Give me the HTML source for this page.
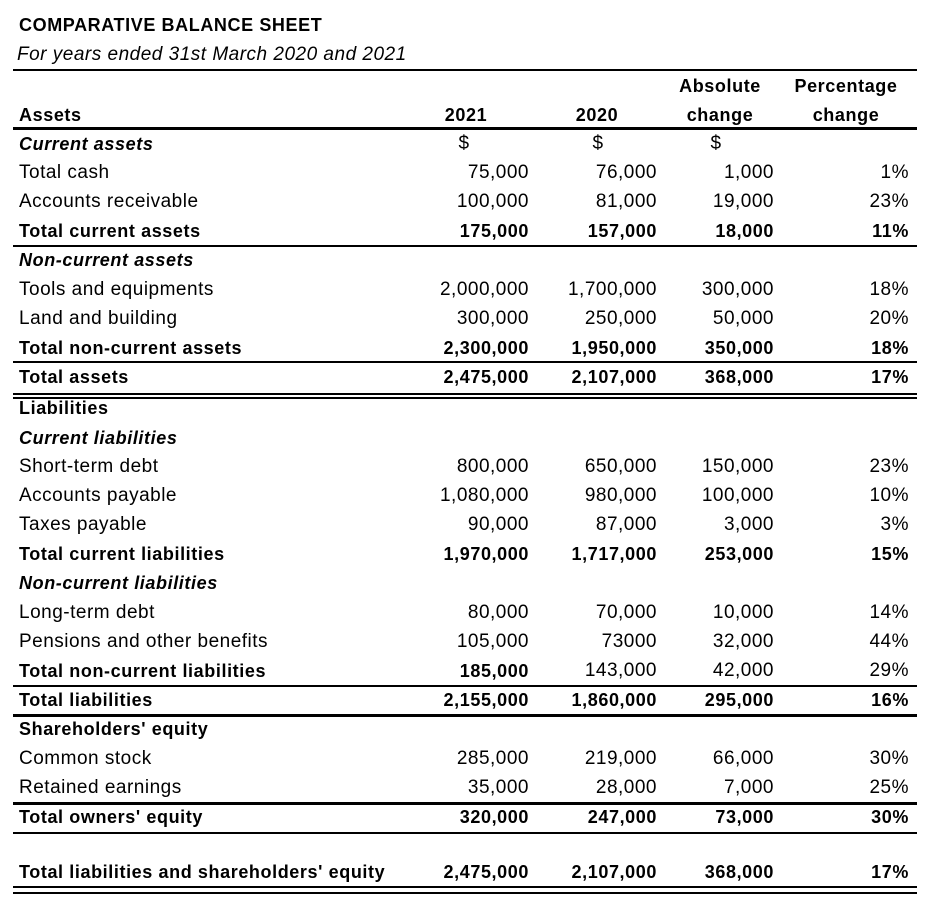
<!DOCTYPE html>
<html><head><meta charset="utf-8"><style>
body{margin:0;width:936px;height:908px;background:#fff;position:relative;font-family:"Liberation Sans",sans-serif;color:#000;overflow:hidden}
.t{position:absolute;font-size:19px;letter-spacing:0.5px;line-height:22px;white-space:nowrap;transform:translateY(-50%)}
.b{font-weight:bold;font-size:18px;letter-spacing:0.6px}
.i{font-style:italic}
.r{text-align:right}
.c{text-align:center}
.l{position:absolute;left:13px;width:904px;background:#000}
</style></head><body>
<div class="t b" style="left:19px;top:25px">COMPARATIVE BALANCE SHEET</div>
<div class="t i" style="left:17px;top:55px">For years ended 31st March 2020 and 2021</div>
<div class="l" style="top:69px;height:2px"></div>
<div class="t b c" style="left:660px;width:120px;top:86px">Absolute</div>
<div class="t b c" style="left:786px;width:120px;top:86px">Percentage</div>
<div class="t b c" style="left:660px;width:120px;top:115px">change</div>
<div class="t b c" style="left:786px;width:120px;top:115px">change</div>
<div class="t b" style="left:19px;top:115px">Assets</div>
<div class="t b c" style="left:426px;width:80px;top:115px">2021</div>
<div class="t b c" style="left:557px;width:80px;top:115px">2020</div>
<div class="l" style="top:127px;height:3px"></div>
<div class="t c" style="left:444px;width:40px;top:144px">$</div>
<div class="t c" style="left:578px;width:40px;top:144px">$</div>
<div class="t c" style="left:696px;width:40px;top:144px">$</div>
<div id="rows"></div>
<div class="l" style="top:245px;height:2px"></div>
<div class="l" style="top:361px;height:2px"></div>
<div class="l" style="top:393px;height:2px"></div>
<div class="l" style="top:397px;height:2px"></div>
<div class="l" style="top:685px;height:2px"></div>
<div class="l" style="top:714px;height:3px"></div>
<div class="l" style="top:802px;height:3px"></div>
<div class="l" style="top:832px;height:2px"></div>
<div class="l" style="top:886px;height:2px"></div>
<div class="l" style="top:892px;height:2px"></div>
<script>
var R=[
[144,"Current assets","bi"],
[173,"Total cash","",["75,000","76,000","1,000","1%"]],
[202,"Accounts receivable","",["100,000","81,000","19,000","23%"]],
[231,"Total current assets","b",["175,000","157,000","18,000","11%"]],
[260,"Non-current assets","bi"],
[290,"Tools and equipments","",["2,000,000","1,700,000","300,000","18%"]],
[319,"Land and building","",["300,000","250,000","50,000","20%"]],
[348,"Total non-current assets","b",["2,300,000","1,950,000","350,000","18%"]],
[377,"Total assets","b",["2,475,000","2,107,000","368,000","17%"]],
[408,"Liabilities","b"],
[438,"Current liabilities","bi"],
[467,"Short-term debt","",["800,000","650,000","150,000","23%"]],
[496,"Accounts payable","",["1,080,000","980,000","100,000","10%"]],
[525,"Taxes payable","",["90,000","87,000","3,000","3%"]],
[554,"Total current liabilities","b",["1,970,000","1,717,000","253,000","15%"]],
[583,"Non-current liabilities","bi"],
[613,"Long-term debt","",["80,000","70,000","10,000","14%"]],
[642,"Pensions and other benefits","",["105,000","73000","32,000","44%"]],
[671,"Total non-current liabilities","b",["185,000","143,000","42,000","29%"],["b","","",""]],
[700,"Total liabilities","b",["2,155,000","1,860,000","295,000","16%"]],
[729,"Shareholders' equity","b"],
[759,"Common stock","",["285,000","219,000","66,000","30%"]],
[788,"Retained earnings","",["35,000","28,000","7,000","25%"]],
[817,"Total owners' equity","b",["320,000","247,000","73,000","30%"]],
[872,"Total liabilities and shareholders' equity","b",["2,475,000","2,107,000","368,000","17%"]]
];
var E=[529,657,774,909],h="";
R.forEach(function(r){
 var cls=r[2].split("").map(function(c){return c=="b"?"b":c=="i"?"i":""}).join(" ");
 h+='<div class="t '+cls+'" style="left:19px;top:'+r[0]+'px">'+r[1]+'</div>';
 if(r[3])r[3].forEach(function(v,k){
  var c=r[4]?r[4][k]:(r[2].indexOf("b")>=0?"b":"");
  h+='<div class="t r '+c+'" style="left:'+(E[k]-200)+'px;width:200px;top:'+r[0]+'px;margin-right:-1px">'+v+'</div>';
 });
});
document.getElementById("rows").outerHTML=h;
</script>
</body></html>
